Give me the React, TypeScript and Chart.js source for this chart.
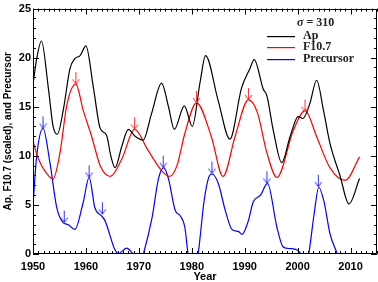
import React, { useEffect, useRef } from 'react';
import { Chart, registerables } from 'chart.js';

Chart.register(...registerables);

// ---- data ----
const apYears = [1950.0, 1950.7, 1951.6, 1952.9, 1953.8, 1954.6, 1955.7, 1957.0, 1957.9, 1958.9, 1960.0, 1961.4, 1962.7, 1963.9, 1964.7, 1965.5, 1966.8, 1968.0, 1969.3, 1970.8, 1972.4, 1974.3, 1975.6, 1976.7, 1978.6, 1980.1, 1981.6, 1982.6, 1985.0, 1987.2, 1989.4, 1991.0, 1991.8, 1993.5, 1994.2, 1995.4, 1997.0, 1998.6, 2000.1, 2001.0, 2002.3, 2003.6, 2004.9, 2006.1, 2008.0, 2009.7, 2011.7];
const apValues = [17.3, 19.9, 21.7, 16.9, 13.0, 12.2, 14.6, 18.9, 19.9, 20.2, 21.2, 17.0, 12.8, 12.1, 10.0, 8.8, 11.0, 12.7, 12.0, 11.6, 14.3, 17.4, 15.0, 12.7, 15.1, 13.0, 17.6, 20.2, 15.6, 11.7, 16.9, 18.9, 19.8, 16.8, 16.1, 12.6, 9.3, 12.0, 14.0, 13.8, 15.3, 17.7, 14.6, 11.3, 8.0, 5.1, 7.7];

const f107Years = [1950.0, 1951.0, 1952.6, 1953.8, 1955.1, 1956.4, 1958.1, 1959.5, 1961.1, 1962.7, 1964.6, 1966.8, 1969.2, 1971.7, 1974.3, 1975.8, 1977.2, 1978.7, 1980.9, 1983.7, 1985.9, 1988.2, 1990.7, 1992.4, 1994.2, 1996.1, 1999.2, 2001.4, 2003.6, 2006.1, 2009.0, 2011.7];
const f107Values = [11.5, 9.7, 8.2, 7.65, 10.3, 15.2, 17.3, 14.6, 11.95, 9.0, 7.9, 9.7, 12.7, 10.6, 8.5, 7.9, 9.0, 12.3, 15.4, 11.95, 7.9, 12.0, 15.7, 14.4, 10.3, 7.8, 12.6, 14.6, 11.95, 8.8, 7.5, 9.9];

const precursorYears = [1950.0, 1950.7, 1951.9, 1953.2, 1954.5, 1955.7, 1956.6, 1957.9, 1959.5, 1960.6, 1961.7, 1962.9, 1963.6, 1965.5, 1966.1, 1967.7, 1968.6, 1969.0, 1969.9, 1970.8, 1972.5, 1973.7, 1974.7, 1975.6, 1976.9, 1977.8, 1978.7, 1979.3, 1980.3, 1981.2, 1982.3, 1983.2, 1983.8, 1985.0, 1986.3, 1987.6, 1988.8, 1989.5, 1990.7, 1991.6, 1993.0, 1994.3, 1996.1, 1997.3, 1998.6, 1999.9, 2000.6, 2001.3, 2002.1, 2003.1, 2004.0, 2005.0, 2006.1, 2007.5, 2008.5];
const precursorValues = [5.0, 10.0, 12.8, 9.3, 4.7, 3.2, 3.0, 2.5, 5.3, 7.8, 4.7, 3.9, 3.4, 0.4, 0.05, 0.6, 0.2, -0.1, -1.5, -0.1, 3.7, 7.65, 8.8, 7.65, 4.4, 3.9, 2.7, 0.0, -2.0, 0.0, 5.3, 7.8, 8.15, 7.2, 4.5, 2.5, 2.3, 2.0, 3.4, 5.3, 6.0, 7.2, 2.7, 0.7, 0.55, 0.4, 0.0, -1.5, 0.0, 4.0, 6.8, 5.3, 2.1, 0.0, -1.5];

const f107PeakYears = [1958.1, 1969.2, 1980.9, 1990.7, 2001.4];
const f107PeakValues = [17.3, 12.7, 15.4, 15.7, 14.5];

const precursorPeakYears = [1951.9, 1955.9, 1960.6, 1963.1, 1974.6, 1983.8, 1994.2, 2003.9];
const precursorPeakValues = [12.8, 3.2, 7.8, 4.05, 8.8, 8.2, 7.2, 6.85];

const xTickValues = [1950, 1960, 1970, 1980, 1990, 2000, 2010];
const yTickValues = [0, 5, 10, 15, 20, 25];
const xRange = [1950, 2015];
const yRange = [0, 25];
const xMinorStep = 1;
const yMinorStep = 1;

const sigmaSymbol = '\u03c3';
const sigmaValue = ' = 310';
const seriesNames = ['Ap', 'F10.7', 'Precursor'];
const seriesColors = ['#000000', '#ff0000', '#0000ff'];

function makeArrow(color: string): HTMLCanvasElement {
  const c = document.createElement('canvas');
  c.width = 9;
  c.height = 26;
  const g = c.getContext('2d')!;
  g.strokeStyle = color;
  g.lineWidth = 1;
  g.beginPath();
  g.moveTo(4.5, 1);
  g.lineTo(4.5, 13);
  g.moveTo(1, 8);
  g.lineTo(4.5, 13);
  g.lineTo(8, 8);
  g.stroke();
  return c;
}

const toPoints = (xs: number[], ys: number[]) => xs.map((x, i) => ({ x, y: ys[i] }));

const framePlugin = {
  id: 'idlFrame',
  afterDatasetsDraw(chart: any) {
    const { ctx, chartArea: a, scales } = chart;
    const xs = scales.x;
    const ys = scales.y;
    ctx.save();
    ctx.strokeStyle = '#000';
    ctx.lineWidth = 1;
    ctx.beginPath();
    ctx.rect(Math.round(a.left) + 0.5, Math.round(a.top) + 0.5, Math.round(a.right - a.left) - 1, Math.round(a.bottom - a.top) - 1);
    for (let v = xRange[0]; v <= xRange[1] + 1e-6; v += xMinorStep) {
      const px = Math.round(xs.getPixelForValue(v)) + 0.5;
      const len = xTickValues.includes(v) ? 6 : 3;
      ctx.moveTo(px, a.bottom);
      ctx.lineTo(px, a.bottom - len);
      ctx.moveTo(px, a.top);
      ctx.lineTo(px, a.top + len);
    }
    for (let v = yRange[0]; v <= yRange[1] + 1e-6; v += yMinorStep) {
      const py = Math.round(ys.getPixelForValue(v)) + 0.5;
      const len = yTickValues.includes(v) ? 6 : 3;
      ctx.moveTo(a.left, py);
      ctx.lineTo(a.left + len, py);
      ctx.moveTo(a.right, py);
      ctx.lineTo(a.right - len, py);
    }
    ctx.stroke();
    ctx.restore();
  },
};

const legendPlugin = {
  id: 'innerLegend',
  afterDraw(chart: any) {
    const { ctx, chartArea: a } = chart;
    ctx.save();
    ctx.textBaseline = 'middle';
    ctx.textAlign = 'left';
    const right = a.right;
    ctx.fillStyle = '#222';
    ctx.font = 'italic bold 12px "Liberation Serif"';
    ctx.fillText(sigmaSymbol, right - 80, a.top + 14);
    const sw = ctx.measureText(sigmaSymbol).width;
    ctx.font = 'bold 12px "Liberation Serif"';
    ctx.fillText(sigmaValue, right - 80 + sw, a.top + 14);
    const rowY = [a.top + 27, a.top + 38.5, a.top + 50];
    seriesNames.forEach((name, i) => {
      ctx.fillStyle = seriesColors[i];
      ctx.fillRect(right - 110, Math.round(rowY[i]), 28, 1.2);
      ctx.fillStyle = '#222';
      ctx.fillText(name, right - 74, rowY[i]);
    });
    ctx.restore();
  },
};

export default function App() {
  const ref = useRef<HTMLCanvasElement>(null);
  useEffect(() => {
    if (!ref.current) return;
    const redArrow = makeArrow('#ff3030');
    const blueArrow = makeArrow('#3030ff');
    const tickFont = { family: '"Liberation Sans", Arial, sans-serif', weight: 'bold' as const, size: 11 };
    const chart = new Chart(ref.current, {
      type: 'line',
      data: {
        datasets: [
          {
            label: 'F10.7 peaks',
            data: toPoints(f107PeakYears, f107PeakValues),
            showLine: false,
            pointStyle: redArrow as any,
            pointRadius: 5,
            order: 0,
          },
          {
            label: 'Precursor peaks',
            data: toPoints(precursorPeakYears, precursorPeakValues),
            showLine: false,
            pointStyle: blueArrow as any,
            pointRadius: 5,
            order: 0,
          },
          {
            label: seriesNames[0],
            data: toPoints(apYears, apValues),
            borderColor: seriesColors[0],
            borderWidth: 1.2,
            pointRadius: 0,
            cubicInterpolationMode: 'monotone',
            clip: 0,
            order: 1,
          },
          {
            label: seriesNames[1],
            data: toPoints(f107Years, f107Values),
            borderColor: seriesColors[1],
            borderWidth: 1.2,
            pointRadius: 0,
            cubicInterpolationMode: 'monotone',
            clip: 0,
            order: 1,
          },
          {
            label: seriesNames[2],
            data: toPoints(precursorYears, precursorValues),
            borderColor: seriesColors[2],
            borderWidth: 1.2,
            pointRadius: 0,
            cubicInterpolationMode: 'monotone',
            clip: 0,
            order: 1,
          },
        ],
      },
      options: {
        animation: false,
        responsive: false,
        devicePixelRatio: 1,
        events: [],
        layout: { autoPadding: false, padding: { top: 2, right: 1, left: 0, bottom: 0 } },
        plugins: { legend: { display: false }, tooltip: { enabled: false } },
        scales: {
          x: {
            type: 'linear',
            min: xRange[0],
            max: xRange[1],
            afterBuildTicks: (s: any) => {
              s.ticks = xTickValues.map((v) => ({ value: v }));
            },
            afterFit: (s: any) => {
              s.height = 28;
            },
            ticks: {
              font: tickFont,
              color: '#000',
              padding: 6,
              maxRotation: 0,
              autoSkip: false,
              callback: (v: any) => String(v),
            },
            grid: { display: false, drawTicks: false },
            border: { display: false },
            title: {
              display: true,
              text: 'Year',
              color: '#000',
              font: { family: '"Liberation Sans", Arial, sans-serif', weight: 'bold', size: 11, lineHeight: 1 },
              padding: { top: 0, bottom: 0 },
            },
          },
          y: {
            type: 'linear',
            min: yRange[0],
            max: yRange[1],
            afterBuildTicks: (s: any) => {
              s.ticks = yTickValues.map((v) => ({ value: v }));
            },
            afterFit: (s: any) => {
              s.width = 33;
            },
            ticks: { font: tickFont, color: '#000', padding: 2, autoSkip: false, callback: (v: any) => String(v) },
            grid: { display: false, drawTicks: false },
            border: { display: false },
            title: {
              display: true,
              text: 'Ap, F10.7 (scaled), and Precursor',
              color: '#000',
              font: { family: '"Liberation Sans", Arial, sans-serif', weight: 'bold', size: 10, lineHeight: 1 },
              padding: { top: 3, bottom: 0 },
            },
          },
        },
      },
      plugins: [framePlugin, legendPlugin],
    });
    return () => chart.destroy();
  }, []);
  return (
    <div style={{ position: 'absolute', left: 0, top: 0, width: 378, height: 282, background: '#fff' }}>
      <canvas ref={ref} width={378} height={282} />
    </div>
  );
}
